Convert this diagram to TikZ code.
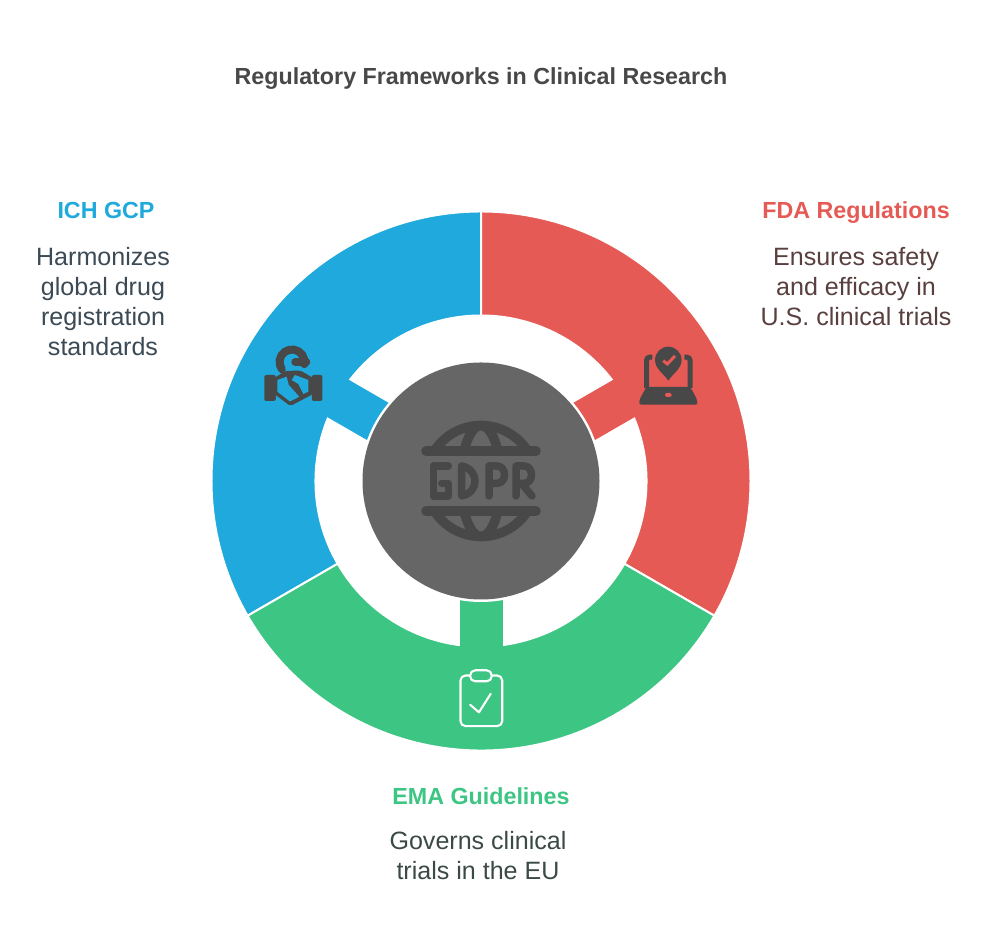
\documentclass[tikz,border=0pt]{standalone}
\usepackage{fontspec}
\setmainfont{Liberation Sans}
\definecolor{ichblue}{HTML}{1FA9DC}
\definecolor{fdared}{HTML}{E55A54}
\definecolor{emagreen}{HTML}{3DC583}
\definecolor{hubgrey}{HTML}{666666}
\definecolor{icondark}{HTML}{484848}
\definecolor{ichtext}{HTML}{3B4A54}
\definecolor{fdatext}{HTML}{5A3F3F}
\definecolor{ematext}{HTML}{3B4A45}
\tikzset{
	headtext/.style={font=\fontsize{6.62}{8.5}\selectfont\bfseries},
	bodytext/.style={font=\fontsize{7.13}{8.53}\selectfont,align=center},
	ringpart/.style={draw=white,line width=0.02cm},
	hubline/.style={draw=icondark,line width=0.095cm,line cap=round,line join=round},
	letterline/.style={draw=icondark,line width=0.075cm,line cap=round,line join=round},
	clipline/.style={draw=white,line width=0.021cm,line cap=round,line join=round}
}

\begin{document}
\begin{tikzpicture}
	\useasboundingbox (-4.81,-4.67) rectangle (5.04,4.81);
	% ring
	\path[fill=ichblue,ringpart] (90:2.695) arc[start angle=90,end angle=210,radius=2.695] -- (210:1.655) arc[start angle=210,end angle=90,radius=1.655] -- cycle;
	\path[fill=fdared,ringpart] (90:2.695) arc[start angle=90,end angle=-30,radius=2.695] -- (-30:1.655) arc[start angle=-30,end angle=90,radius=1.655] -- cycle;
	\path[fill=emagreen,ringpart] (210:2.695) arc[start angle=210,end angle=330,radius=2.695] -- (330:1.655) arc[start angle=330,end angle=210,radius=1.655] -- cycle;
	\fill[ichblue,rotate=150] (1.1,-0.215) rectangle (1.7,0.215);
	\fill[fdared,rotate=30] (1.1,-0.215) rectangle (1.7,0.215);
	\fill[emagreen,rotate=270] (1.1,-0.215) rectangle (1.7,0.215);
	\fill[white] (0,0) circle (1.21);
	\fill[hubgrey] (0,0) circle (1.185);
	% globe
	\begin{scope}
		\draw[hubline] (-0.55,0.3) -- (0.55,0.3);
		\draw[hubline] (-0.55,-0.3) -- (0.55,-0.3);
		\draw[hubline] (0.467,0.3) arc[start angle=32.7,end angle=147.3,radius=0.555];
		\draw[hubline] (0.467,-0.3) arc[start angle=-32.7,end angle=-147.3,radius=0.555];
		\draw[hubline] (0.168,0.3) arc[start angle=32.7,end angle=147.3,x radius=0.2,y radius=0.555];
		\draw[hubline] (0.168,-0.3) arc[start angle=-32.7,end angle=-147.3,x radius=0.2,y radius=0.555];
		\draw[letterline] (-0.327,0.15) -- (-0.477,0.15) -- (-0.477,-0.15) -- (-0.327,-0.15) -- (-0.327,-0.023) -- (-0.393,-0.023);
		\draw[letterline] (-0.193,0.15) -- (-0.193,-0.15) .. controls (-0.09,-0.13) and (-0.06,-0.05) .. (-0.06,0) .. controls (-0.06,0.05) and (-0.09,0.13) .. (-0.193,0.15);
		\draw[letterline] (0.08,-0.15) -- (0.08,0.15) -- (0.16,0.15) .. controls (0.26,0.15) and (0.26,-0.023) .. (0.16,-0.023) -- (0.08,-0.023);
		\draw[letterline] (0.35,-0.15) -- (0.35,0.15) -- (0.43,0.15) .. controls (0.53,0.15) and (0.53,-0.023) .. (0.43,-0.023) -- (0.35,-0.023);
		\draw[letterline] (0.41,-0.03) -- (0.51,-0.15);
	\end{scope}
	% handshake
	\begin{scope}[shift={(-1.877,1.06)}]
		\draw[icondark,line width=0.08cm,line cap=round] (-0.115,0.058) arc[start angle=215,end angle=-10,radius=0.125];
		\draw[icondark,line width=0.08cm,line cap=round] (0.02,0.13) -- (0.13,0.13);
		\fill[icondark,rounded corners=0.02cm] (-0.29,0) rectangle (-0.175,-0.26);
		\fill[icondark,rounded corners=0.02cm] (0.29,0) rectangle (0.185,-0.26);
		\fill[icondark,rounded corners=0.02cm] (-0.19,-0.03) -- (-0.08,0.04) -- (0.07,0.045) -- (0.2,-0.03) -- (0.2,-0.19) -- (-0.03,-0.31) -- (-0.19,-0.19) -- cycle;
		\fill[ichblue] (-0.16,-0.05) -- (-0.067,-0.017) -- (-0.045,-0.1) -- (0.06,-0.217) -- (-0.033,-0.265) -- (-0.16,-0.167) -- cycle;
		\fill[ichblue] (0.017,0) -- (0.15,-0.05) -- (0.15,-0.167) -- (0.1,-0.19) -- (0.05,-0.09) -- (-0.017,-0.05) -- cycle;
	\end{scope}
	% laptop
	\begin{scope}[shift={(1.873,1.06)}]
		\fill[icondark,rounded corners=0.02cm] (-0.22,-0.12) -- (0.22,-0.12) -- (0.29,-0.25) -- (0.29,-0.297) -- (-0.29,-0.297) -- (-0.29,-0.25) -- cycle;
		\fill[fdared,rounded corners=0.015cm] (-0.033,-0.18) rectangle (0.033,-0.22);
		\draw[icondark,line width=0.05cm,rounded corners=0.03cm] (-0.217,-0.13) -- (-0.217,0.178) -- (-0.16,0.178);
		\draw[icondark,line width=0.05cm,rounded corners=0.03cm] (0.217,-0.13) -- (0.217,0.178) -- (0.16,0.178);
		\fill[icondark] (0,-0.057) .. controls (-0.04,0.01) and (-0.133,0.06) .. (-0.133,0.15) arc[start angle=180,end angle=0,radius=0.133] .. controls (0.133,0.06) and (0.04,0.01) .. (0,-0.057) -- cycle;
		\draw[fdared,line width=0.03cm] (-0.05,0.143) -- (-0.01,0.11) -- (0.067,0.19);
	\end{scope}
	% clipboard
	\begin{scope}[shift={(0.007,-2.173)}]
		\draw[clipline,rounded corners=0.05cm] (-0.212,-0.278) rectangle (0.205,0.228);
		\draw[clipline,fill=emagreen,rounded corners=0.05cm] (-0.115,0.28) rectangle (0.1,0.17);
		\draw[clipline] (-0.115,-0.065) -- (-0.027,-0.14) -- (0.09,0.045);
	\end{scope}
	% texts
	\node[headtext,text=icondark] (title) at (0,4.02) {Regulatory Frameworks in Clinical Research};
	\node[headtext,text=ichblue] (ichhead) at (-3.75,2.7) {ICH GCP};
	\node[bodytext,text=ichtext] (ichbody) at (-3.78,1.79) {Harmonizes\\global drug\\registration\\standards};
	\node[headtext,text=fdared] (fdahead) at (3.75,2.68) {FDA Regulations};
	\node[bodytext,text=fdatext] (fdabody) at (3.75,1.94) {Ensures safety\\and efficacy in\\U.S. clinical trials};
	\node[headtext,text=emagreen] (emahead) at (0,-3.15) {EMA Guidelines};
	\node[bodytext,text=ematext] (emabody) at (-0.03,-3.75) {Governs clinical\\trials in the EU};
\end{tikzpicture}
\end{document}
